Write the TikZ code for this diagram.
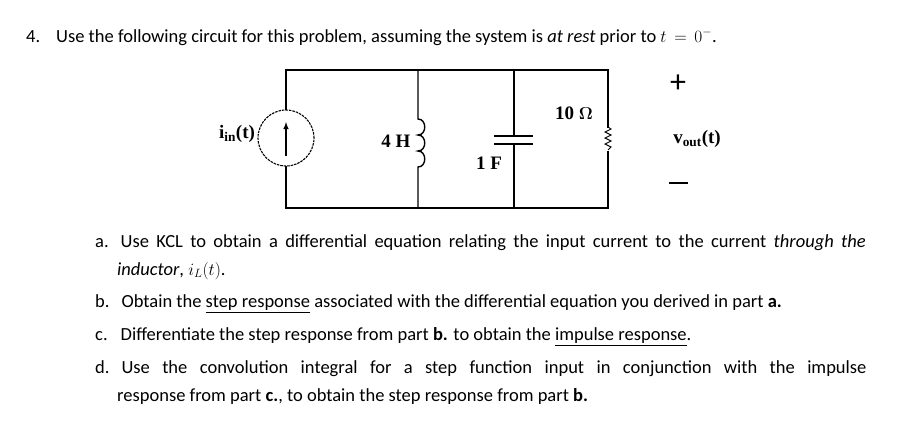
\documentclass[tikz,border=0pt]{standalone}
\usepackage{fontspec}
\setmainfont{Carlito}
\newfontfamily\cf{Liberation Serif}
\usepackage{amsmath}
\begin{document}
\begin{tikzpicture}[x=1pt,y=-1pt,
  txt/.style={anchor=base west,inner sep=0pt,font=\fontsize{18.5}{20}\selectfont},
  lab/.style={inner sep=0pt,font=\cf\bfseries\fontsize{19}{20}\selectfont},
  w/.style={line width=1.4pt}]
\useasboundingbox (0,0) rectangle (912,429);
% wires
\coordinate (tl) at (286,70); \coordinate (bl) at (286,208);
\coordinate (tL) at (418,70); \coordinate (bL) at (418,208);
\coordinate (tC) at (514,70); \coordinate (bC) at (514,208);
\coordinate (tR) at (608,70); \coordinate (bR) at (608,208);
\draw[w] (bl) -- (tl) -- (tR) -- (bR) -- cycle;
% source
\node[draw,dash pattern=on 2.5pt off 1pt,circle,minimum size=56pt,inner sep=0pt,line width=1.1pt,fill=white] (src) at (286,138) {};
\draw[w,-latex] (286,156) -- (286,122);
% inductor
\draw[white,fill=white] (412,118) rectangle (424,168);
\draw[w] (tL) -- (418,119) .. controls (427,119) and (427,135) .. (418,135)
  .. controls (427,135) and (427,151) .. (418,151)
  .. controls (427,151) and (427,167) .. (418,167) -- (bL);
% capacitor
\draw[white,fill=white] (505,136) rectangle (523,144);
\draw[w] (tC) -- (514,136); \draw[w] (514,144) -- (bC);
\draw[line width=2.2pt] (494,136) -- (533,136);
\draw[line width=2.2pt] (494,144) -- (533,144);
% resistor
\draw[white,fill=white] (605,128) rectangle (611,150);
\draw[line width=0.9pt] (608,127) -- (611,129) -- (605,132) -- (611,135) -- (605,138) -- (611,141) -- (605,144) -- (611,147) -- (608,150);
% labels
\node[lab] (lin) at (237,134) {i$_{\text{\cf\bfseries in}}$(t)};
\node[lab] (l4) at (396,141) {4 H};
\node[lab] (l1) at (489,163) {1 F};
\node[lab] (lr) at (574,113) {10 $\boldsymbol\Omega$};
\node[lab] (lv) at (697,139) {v$_{\text{\cf\bfseries out}}$(t)};
\node[inner sep=0pt,font=\fontsize{32}{32}\selectfont] (plus) at (678,84) {+};
\draw[line width=2pt] (669,183) -- (688,183);
% text
\node[txt] (t0) at (26,42) {4.\hspace{16pt}Use the following circuit for this problem, assuming the system is \textit{at rest} prior to $t\,=\,0^-$.};
\node[txt] (ta1) at (95,247) {a.\hspace{12pt}\makebox[745pt][s]{Use KCL to obtain a differential equation relating the input current to the current \textit{through the}}};
\node[txt] (ta2) at (117,275) {\textit{inductor}, $i_L(t)$.};
\node[txt] (tb) at (95,307) {b.\hspace{12pt}Obtain the \underline{step response} associated with the differential equation you derived in part \textbf{a.}};
\node[txt] (tc) at (95,340) {c.\hspace{13pt}Differentiate the step response from part \textbf{b.} to obtain the \underline{impulse response}.};
\node[txt] (td1) at (95,373) {d.\hspace{12pt}\makebox[745pt][s]{Use the convolution integral for a step function input in conjunction with the impulse}};
\node[txt] (td2) at (117,401) {response from part \textbf{c.}, to obtain the step response from part \textbf{b.}};
\end{tikzpicture}
\end{document}
